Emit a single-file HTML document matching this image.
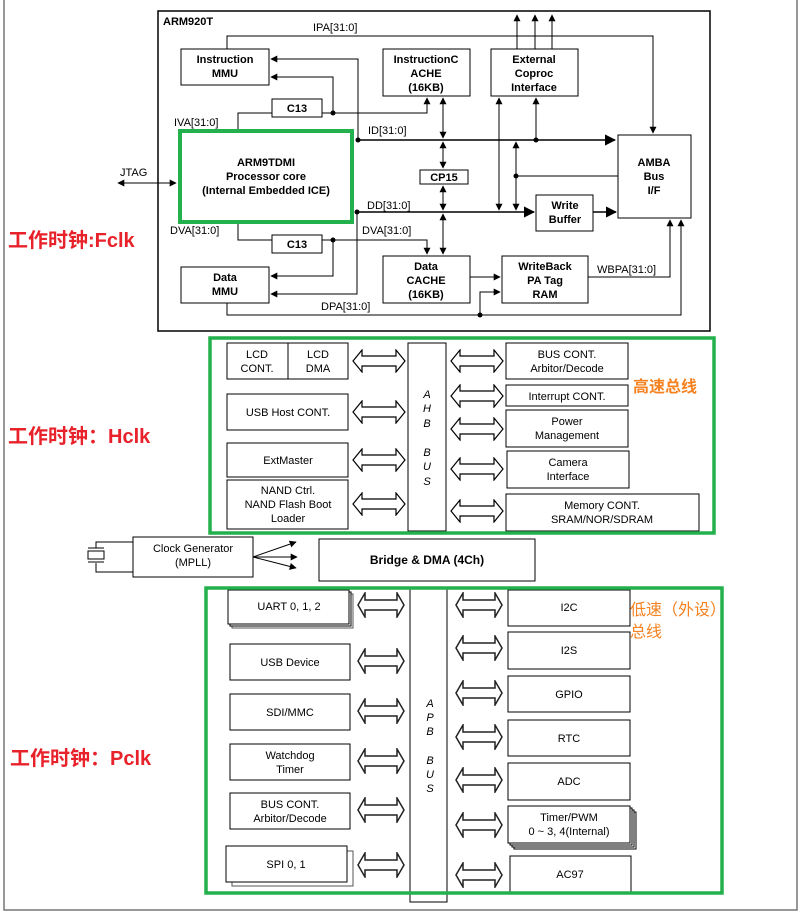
<!DOCTYPE html>
<html><head><meta charset="utf-8"><style>
html,body{margin:0;padding:0;background:#fff}
svg{display:block}
text{font-family:"Liberation Sans","Noto Sans CJK SC",sans-serif;font-size:11px;fill:#000}
.b{font-weight:bold}
.red{fill:#e8222a;font-weight:bold;font-size:20px}
.or{fill:#f58220;font-weight:bold;font-size:16px}
</style></head><body>
<svg width="800" height="918" viewBox="0 0 800 918" xmlns="http://www.w3.org/2000/svg">
<defs>
<marker id="a" viewBox="0 0 10 10" refX="9" refY="5" markerWidth="7" markerHeight="7" orient="auto-start-reverse"><path d="M0,0 L10,5 L0,10 z" fill="#000"/></marker>
<symbol id="da" viewBox="0 0 54 24" width="54" height="24"><polygon points="1,12 10,1 10,7 44,7 44,1 53,12 44,23 44,17 10,17 10,23" fill="#fff" stroke="#000" stroke-width="1.2"/></symbol>
<symbol id="db" viewBox="0 0 48 26" width="48" height="26"><polygon points="1,13 8,1 8,8 40,8 40,1 47,13 40,25 40,18 8,18 8,25" fill="#fff" stroke="#222" stroke-width="1.5"/></symbol>
</defs>
<!-- outer frame -->
<polyline points="4,0 4,910 797,910 797,0" fill="none" stroke="#777" stroke-width="1.5"/>

<!-- ARM920T -->
<rect x="158" y="11" width="552" height="320" fill="none" stroke="#000" stroke-width="1.5"/>
<text x="163" y="25" class="b">ARM920T</text>
<g fill="none" stroke="#000" stroke-width="1">
<rect x="181" y="49" width="88" height="36"/>
<rect x="383" y="49" width="87" height="47"/>
<rect x="491" y="49" width="87" height="47"/>
<rect x="272" y="99" width="50" height="18"/>
<rect x="420" y="170" width="48" height="14"/>
<rect x="618" y="135" width="73" height="83"/>
<rect x="536" y="195" width="57" height="36"/>
<rect x="272" y="235" width="50" height="18"/>
<rect x="181" y="267" width="88" height="36"/>
<rect x="383" y="256" width="87" height="47"/>
<rect x="502" y="256" width="86" height="47"/>
</g>
<g fill="none" stroke="#000" stroke-width="1">
<polyline points="227,49 227,36 653,36 653,133" marker-end="url(#a)"/>
<line x1="517" y1="49" x2="517" y2="15" marker-end="url(#a)"/>
<line x1="535" y1="49" x2="535" y2="15" marker-end="url(#a)"/>
<line x1="552" y1="49" x2="552" y2="15" marker-end="url(#a)"/>
<polyline points="322,113 427,113 427,98" marker-end="url(#a)"/>
<polyline points="333,113 333,77 271,77" marker-end="url(#a)"/>
<polyline points="358,140 358,59 271,59" marker-end="url(#a)"/>
<polyline points="238,130 238,113 272,113"/>
<line x1="358" y1="140" x2="615" y2="140" stroke-width="1.6" marker-end="url(#a)"/>
<line x1="358" y1="212" x2="534" y2="212" stroke-width="1.6" marker-end="url(#a)"/>
<line x1="593" y1="212" x2="616" y2="212" stroke-width="1.6" marker-end="url(#a)"/>
<line x1="443" y1="98" x2="443" y2="138" marker-start="url(#a)" marker-end="url(#a)"/>
<line x1="443" y1="142" x2="443" y2="168" marker-start="url(#a)" marker-end="url(#a)"/>
<line x1="443" y1="186" x2="443" y2="210" marker-start="url(#a)" marker-end="url(#a)"/>
<line x1="443" y1="214" x2="443" y2="254" marker-start="url(#a)" marker-end="url(#a)"/>
<line x1="499" y1="98" x2="499" y2="210" marker-start="url(#a)" marker-end="url(#a)"/>
<line x1="536" y1="140" x2="536" y2="98" marker-end="url(#a)"/>
<line x1="516" y1="142" x2="516" y2="210" marker-start="url(#a)" marker-end="url(#a)"/>
<line x1="516" y1="176" x2="618" y2="176"/>
<polyline points="238,222 238,240 272,240"/>
<polyline points="322,240 427,240 427,254" marker-end="url(#a)"/>
<polyline points="333,240 333,276 271,276" marker-end="url(#a)"/>
<polyline points="357,212 357,294 271,294" marker-end="url(#a)"/>
<line x1="470" y1="277" x2="500" y2="277" marker-end="url(#a)"/>
<polyline points="227,303 227,315 681,315 681,220" marker-end="url(#a)"/>
<polyline points="480,315 480,292 500,292" marker-end="url(#a)"/>
<polyline points="588,277 670,277 670,220" marker-end="url(#a)"/>
<line x1="118" y1="183" x2="176" y2="183" marker-start="url(#a)" marker-end="url(#a)"/>
</g>
<g fill="#000">
<circle cx="333" cy="113" r="2.5"/><circle cx="358" cy="140" r="2.5"/><circle cx="536" cy="140" r="2.5"/>
<circle cx="516" cy="176" r="2.5"/><circle cx="357" cy="212" r="2.5"/><circle cx="333" cy="240" r="2.5"/>
<circle cx="480" cy="315" r="2.5"/>
</g>
<rect x="180" y="131" width="172" height="91" fill="#fff" stroke="#22b14c" stroke-width="4"/>
<g class="b" text-anchor="middle">
<text x="225" y="63">Instruction</text><text x="225" y="77">MMU</text>
<text x="426" y="63">InstructionC</text><text x="426" y="77">ACHE</text><text x="426" y="91">(16KB)</text>
<text x="534" y="63">External</text><text x="534" y="77">Coproc</text><text x="534" y="91">Interface</text>
<text x="297" y="112">C13</text><text x="297" y="248">C13</text>
<text x="444" y="181">CP15</text>
<text x="654" y="166">AMBA</text><text x="654" y="180">Bus</text><text x="654" y="194">I/F</text>
<text x="565" y="209">Write</text><text x="565" y="223">Buffer</text>
<text x="266" y="166">ARM9TDMI</text><text x="266" y="180">Processor core</text><text x="266" y="194">(Internal Embedded ICE)</text>
<text x="225" y="281">Data</text><text x="225" y="295">MMU</text>
<text x="426" y="270">Data</text><text x="426" y="284">CACHE</text><text x="426" y="298">(16KB)</text>
<text x="545" y="270">WriteBack</text><text x="545" y="284">PA Tag</text><text x="545" y="298">RAM</text>
</g>
<text x="313" y="31">IPA[31:0]</text>
<text x="174" y="126">IVA[31:0]</text>
<text x="368" y="134">ID[31:0]</text>
<text x="367" y="209">DD[31:0]</text>
<text x="170" y="234">DVA[31:0]</text>
<text x="362" y="234">DVA[31:0]</text>
<text x="597" y="273">WBPA[31:0]</text>
<text x="321" y="310">DPA[31:0]</text>
<text x="120" y="176">JTAG</text>

<text x="8" y="247" class="red">工作时钟:Fclk</text>
<text x="8" y="443" class="red">工作时钟：Hclk</text>
<text x="10" y="765" class="red">工作时钟：Pclk</text>

<!-- AHB -->
<g fill="none" stroke="#000" stroke-width="1">
<rect x="227" y="343" width="121" height="36"/><line x1="288" y1="343" x2="288" y2="379"/>
<rect x="227" y="394" width="121" height="36"/>
<rect x="227" y="443" width="121" height="34"/>
<rect x="227" y="480" width="121" height="49"/>
<rect x="408" y="343" width="38" height="188"/>
<rect x="506" y="343" width="122" height="36"/>
<rect x="506" y="385" width="122" height="21"/>
<rect x="506" y="410" width="122" height="37"/>
<rect x="507" y="451" width="122" height="37"/>
<rect x="506" y="494" width="193" height="37"/>
<rect x="133" y="537" width="120" height="40"/>
<rect x="319" y="539" width="216" height="42"/>
</g>
<g text-anchor="middle">
<text x="257" y="358">LCD</text><text x="257" y="372">CONT.</text>
<text x="318" y="358">LCD</text><text x="318" y="372">DMA</text>
<text x="288" y="416">USB Host CONT.</text>
<text x="288" y="464">ExtMaster</text>
<text x="288" y="494">NAND Ctrl.</text><text x="288" y="508">NAND Flash Boot</text><text x="288" y="522">Loader</text>
<text x="567" y="358">BUS CONT.</text><text x="567" y="372">Arbitor/Decode</text>
<text x="567" y="400">Interrupt CONT.</text>
<text x="567" y="425">Power</text><text x="567" y="439">Management</text>
<text x="568" y="466">Camera</text><text x="568" y="480">Interface</text>
<text x="602" y="509">Memory CONT.</text><text x="602" y="523">SRAM/NOR/SDRAM</text>
<text x="193" y="552">Clock Generator</text><text x="193" y="566">(MPLL)</text>
<text x="427" y="564" class="b" style="font-size:12px">Bridge &amp; DMA (4Ch)</text>
</g>
<g text-anchor="middle" font-style="italic">
<text x="427" y="398" font-style="italic">A</text><text x="427" y="412" font-style="italic">H</text><text x="427" y="427" font-style="italic">B</text>
<text x="427" y="456" font-style="italic">B</text><text x="427" y="470" font-style="italic">U</text><text x="427" y="485" font-style="italic">S</text>
</g>
<use href="#da" x="352" y="349"/><use href="#da" x="450" y="349"/>
<use href="#da" x="352" y="400"/><use href="#da" x="450" y="384"/>
<use href="#da" x="352" y="448"/><use href="#da" x="450" y="417"/>
<use href="#da" x="352" y="492"/><use href="#da" x="450" y="457"/>
<use href="#da" x="450" y="499"/>
<rect x="210" y="338" width="504" height="195" fill="none" stroke="#22b14c" stroke-width="3.5"/>
<text x="633" y="392" class="or">高速总线</text>

<!-- clock -->
<g fill="none" stroke="#000" stroke-width="1">
<polyline points="133,542 96,542 96,548"/><polyline points="133,572 96,572 96,563"/>
<rect x="88" y="551" width="16" height="8"/><line x1="88" y1="548" x2="104" y2="548"/><line x1="88" y1="562" x2="104" y2="562"/>
<line x1="253" y1="557" x2="296" y2="542" marker-end="url(#a)"/>
<line x1="253" y1="557" x2="297" y2="557" marker-end="url(#a)"/>
<line x1="253" y1="557" x2="296" y2="568" marker-end="url(#a)"/>
</g>

<!-- APB -->
<g fill="#fff" stroke="#000" stroke-width="1">
<rect x="232" y="594" width="121" height="34" stroke="#555"/>
<rect x="230" y="592" width="121" height="34"/>
<rect x="228" y="590" width="121" height="34"/>
<rect x="230" y="644" width="120" height="36"/>
<rect x="230" y="694" width="120" height="36"/>
<rect x="230" y="744" width="120" height="36"/>
<rect x="230" y="793" width="120" height="36"/>
<rect x="232" y="851" width="121" height="35" stroke="#555"/>
<rect x="226" y="846" width="121" height="36"/>
<rect x="508" y="590" width="122" height="36"/>
<rect x="508" y="632" width="122" height="37"/>
<rect x="508" y="676" width="122" height="36"/>
<rect x="508" y="720" width="122" height="36"/>
<rect x="508" y="763" width="122" height="37"/>
<rect x="514" y="812" width="122" height="37"/>
<rect x="512" y="810" width="122" height="37"/>
<rect x="510" y="808" width="122" height="37"/>
<rect x="508" y="806" width="122" height="37"/>
<rect x="510" y="856" width="121" height="36"/>
<rect x="410" y="588" width="37" height="314"/>
</g>
<g text-anchor="middle">
<text x="289" y="610">UART 0, 1, 2</text>
<text x="290" y="666">USB Device</text>
<text x="290" y="716">SDI/MMC</text>
<text x="290" y="759">Watchdog</text><text x="290" y="773">Timer</text>
<text x="290" y="808">BUS CONT.</text><text x="290" y="822">Arbitor/Decode</text>
<text x="286" y="868">SPI 0, 1</text>
<text x="569" y="611">I2C</text>
<text x="569" y="654">I2S</text>
<text x="569" y="698">GPIO</text>
<text x="569" y="742">RTC</text>
<text x="569" y="785">ADC</text>
<text x="569" y="821">Timer/PWM</text><text x="569" y="835">0 ~ 3, 4(Internal)</text>
<text x="570" y="878">AC97</text>
<text x="430" y="707" font-style="italic">A</text><text x="430" y="721" font-style="italic">P</text><text x="430" y="735" font-style="italic">B</text>
<text x="430" y="764" font-style="italic">B</text><text x="430" y="778" font-style="italic">U</text><text x="430" y="792" font-style="italic">S</text>
</g>
<use href="#db" x="357" y="592"/><use href="#db" x="455" y="592"/>
<use href="#db" x="357" y="648"/><use href="#db" x="455" y="635"/>
<use href="#db" x="357" y="698"/><use href="#db" x="455" y="680"/>
<use href="#db" x="357" y="748"/><use href="#db" x="455" y="724"/>
<use href="#db" x="357" y="797"/><use href="#db" x="455" y="767"/>
<use href="#db" x="357" y="852"/><use href="#db" x="455" y="812"/>
<use href="#db" x="455" y="862"/>
<rect x="206" y="588" width="516" height="305" fill="none" stroke="#22b14c" stroke-width="3.5"/>
<text x="630" y="615" class="or" style="font-weight:normal">低速（外设）</text>
<text x="630" y="637" class="or" style="font-weight:normal">总线</text>
</svg>
</body></html>
